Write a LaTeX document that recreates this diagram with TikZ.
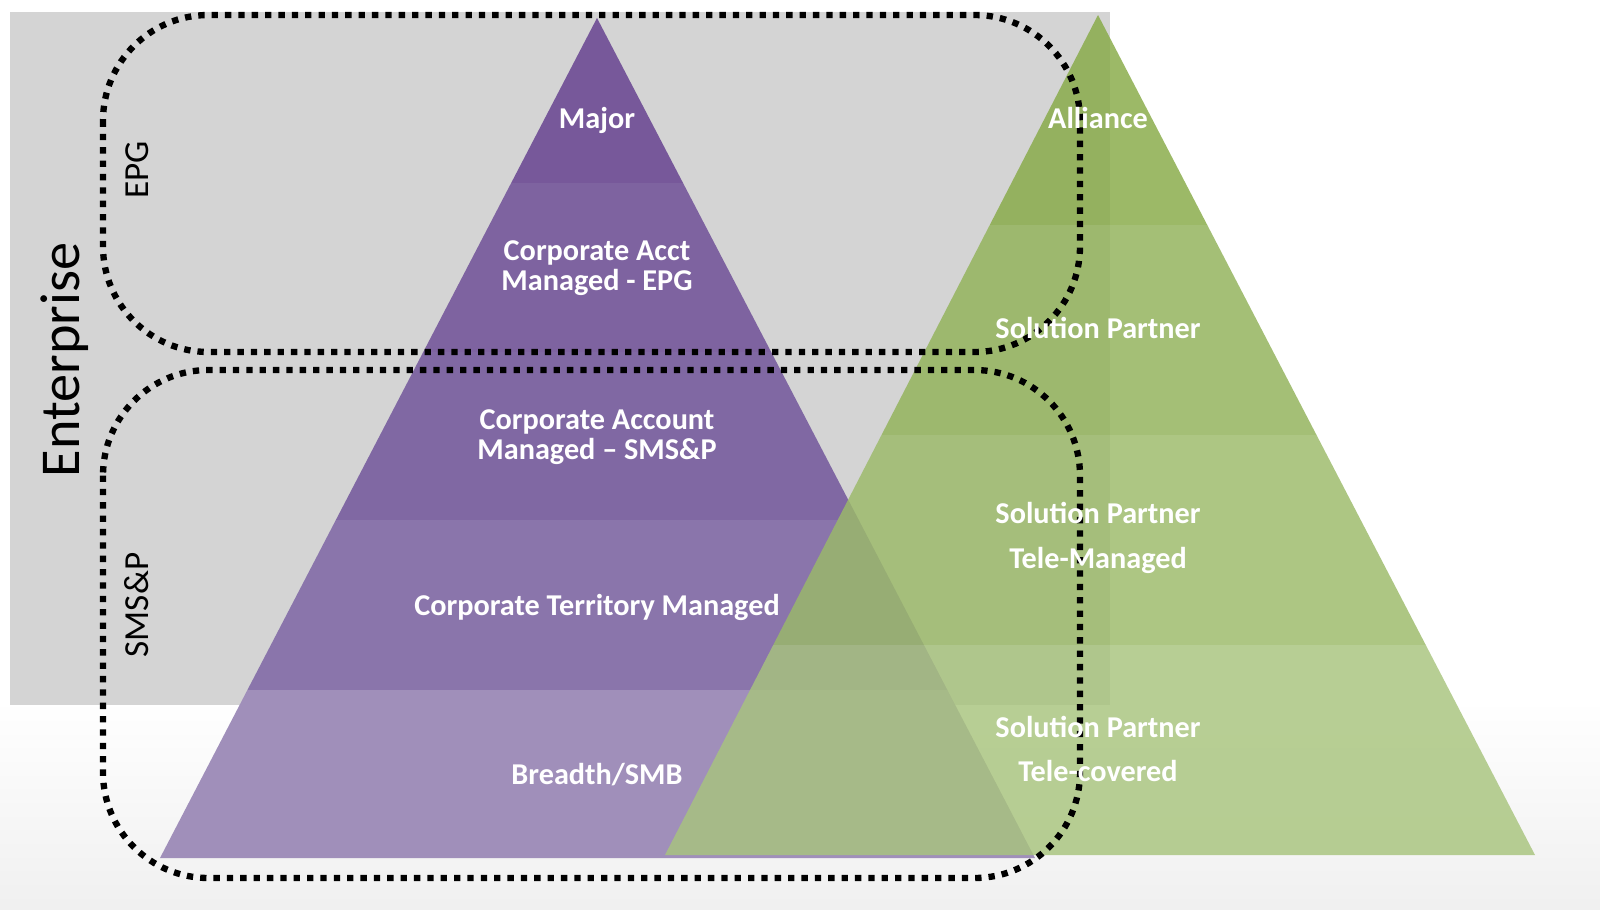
\documentclass[tikz,border=0pt]{standalone}
\usepackage{fontspec}
\setmainfont{Carlito}
\begin{document}
\begin{tikzpicture}[x=0.01cm,y=-0.01cm,
  lbl/.style={text=white,font=\bfseries\fontsize{8.6}{8.6}\selectfont,align=center},
  side/.style={font=\fontsize{10}{12}\selectfont,rotate=90},
  grp/.style={draw=black,line width=1.8pt,dotted,rounded corners=30}]
\useasboundingbox (0,0) rectangle (1600,909);
\fill[white] (0,0) rectangle (1600,909);
\shade[top color=white,bottom color=black!6] (0,700) rectangle (1600,909);
\fill[black!17] (10,12) rectangle (1110,705);
% purple pyramid
\begin{scope}
\clip (597,18) -- (1035,858) -- (160,858) -- cycle;
\fill[fill={rgb,255:red,119;green,88;blue,154}] (0,0) rectangle (1600,183);
\fill[fill={rgb,255:red,126;green,99;blue,160}] (0,183) rectangle (1600,352);
\fill[fill={rgb,255:red,128;green,104;blue,163}] (0,352) rectangle (1600,520);
\fill[fill={rgb,255:red,138;green,117;blue,171}] (0,520) rectangle (1600,690);
\fill[fill={rgb,255:red,160;green,143;blue,186}] (0,690) rectangle (1600,909);
\end{scope}
% green pyramid
\begin{scope}
\clip (1098,15) -- (1535,855) -- (665,855) -- cycle;
\begin{scope}[opacity=0.82]
\fill[fill={rgb,255:red,135;green,170;blue,70}] (0,0) rectangle (1600,225);
\fill[fill={rgb,255:red,145;green,178;blue,88}] (0,225) rectangle (1600,435);
\fill[fill={rgb,255:red,155;green,186;blue,104}] (0,435) rectangle (1600,645);
\fill[fill={rgb,255:red,168;green,196;blue,125}] (0,645) rectangle (1600,909);
\end{scope}
\end{scope}
% group boxes
\draw[grp] (103,15) rectangle (1080,352);
\draw[grp] (103,370) rectangle (1080,878);
\node[side,font=\fontsize{16}{18}\selectfont] (ent) at (65,360) {Enterprise};
\node[side] (epg) at (137,170) {EPG};
\node[side] (sms) at (137,605) {SMS\&P};
% labels
\node[lbl] (p1) at (597,120) {Major};
\node[lbl] (p2) at (597,268) {Corporate Acct\\Managed - EPG};
\node[lbl] (p3) at (597,437) {Corporate Account\\Managed – SMS\&P};
\node[lbl] (p4) at (597,607) {Corporate Territory Managed};
\node[lbl] (p5) at (597,775) {Breadth/SMB};
\node[lbl] (g1) at (1098,118) {Alliance};
\node[lbl] (g2) at (1098,328) {Solution Partner};
\node[lbl] (g3) at (1098,538) {Solution Partner\\[4pt]Tele-Managed};
\node[lbl] (g4) at (1098,749) {Solution Partner\\[4pt]Tele-covered};
\end{tikzpicture}
\end{document}
